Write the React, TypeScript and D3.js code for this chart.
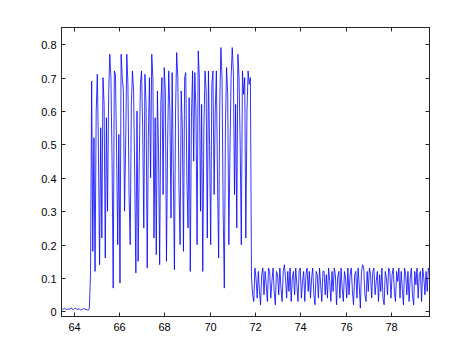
import React from "react";
import * as d3 from "d3";

const X_START = 63.5;
const X_STEP = 0.05;

const baseline = [
  0.008, 0.006, 0.01, 0.007, 0.005, 0.009, 0.006, 0.008, 0.011, 0.007,
  0.006, 0.009, 0.01, 0.006, 0.007, 0.008, 0.005, 0.004, 0.008, 0.009,
  0.007, 0.006, 0.005, 0.004, 0.01, 0.115,
];

const burst = [
  0.69, 0.18, 0.52, 0.12, 0.6, 0.71, 0.48, 0.14, 0.55, 0.22,
  0.7, 0.62, 0.16, 0.58, 0.3, 0.65, 0.77, 0.7, 0.45, 0.07,
  0.72, 0.71, 0.48, 0.2, 0.53, 0.085, 0.77, 0.7, 0.66, 0.3,
  0.5, 0.77, 0.68, 0.35, 0.2, 0.62, 0.72, 0.66, 0.4, 0.115,
  0.6, 0.15, 0.45, 0.68, 0.72, 0.55, 0.25, 0.71, 0.62, 0.13,
  0.52, 0.7, 0.4, 0.77, 0.7, 0.22, 0.58, 0.17, 0.66, 0.48,
  0.14, 0.62, 0.7, 0.35, 0.73, 0.66, 0.15, 0.5, 0.72, 0.6,
  0.28, 0.715, 0.42, 0.125, 0.6, 0.775, 0.7, 0.38, 0.2, 0.66,
  0.55, 0.18, 0.7, 0.715, 0.4, 0.25, 0.64, 0.12, 0.58, 0.72,
  0.45, 0.715, 0.6, 0.2, 0.78, 0.7, 0.3, 0.62, 0.12, 0.55,
  0.72, 0.66, 0.22, 0.72, 0.5, 0.2, 0.68, 0.72, 0.35, 0.6,
  0.72, 0.4, 0.16, 0.62, 0.79, 0.7, 0.3, 0.07, 0.55, 0.73,
  0.65, 0.2, 0.48, 0.7, 0.79, 0.72, 0.35, 0.62, 0.25, 0.77,
  0.7, 0.5, 0.2, 0.72, 0.65, 0.7, 0.22, 0.6, 0.72, 0.68,
  0.7,
];

const tail = [
  0.1,
  0.05, 0.03, 0.13, 0.1, 0.04, 0.12, 0.06, 0.02, 0.11, 0.13,
  0.05, 0.12, 0.08, 0.03, 0.13, 0.12, 0.04, 0.09, 0.13, 0.06,
  0.02, 0.12, 0.11, 0.05, 0.13, 0.07, 0.03, 0.12, 0.14, 0.1,
  0.04, 0.12, 0.06, 0.13, 0.03, 0.1, 0.12, 0.05, 0.13, 0.08,
  0.03, 0.12, 0.13, 0.04, 0.09, 0.12, 0.03, 0.11, 0.13, 0.06,
  0.12, 0.04, 0.1, 0.13, 0.05, 0.02, 0.12, 0.11, 0.04, 0.13,
  0.08, 0.03, 0.12, 0.12, 0.05, 0.11, 0.04, 0.13, 0.09, 0.03,
  0.12, 0.06, 0.13, 0.11, 0.02, 0.1, 0.12, 0.04, 0.13, 0.07,
  0.03, 0.12, 0.1, 0.04, 0.13, 0.05, 0.11, 0.13, 0.06, 0.02,
  0.11, 0.12, 0.04, 0.13, 0.08, 0.01, 0.12, 0.14, 0.13, 0.05,
  0.03, 0.12, 0.06, 0.13, 0.11, 0.04, 0.12, 0.13, 0.05, 0.09,
  0.12, 0.03, 0.11, 0.06, 0.13, 0.04, 0.02, 0.12, 0.1, 0.05,
  0.13, 0.12, 0.04, 0.11, 0.13, 0.06, 0.03, 0.12, 0.09, 0.13,
  0.04, 0.12, 0.07, 0.02, 0.13, 0.11, 0.05, 0.12, 0.03, 0.1,
  0.13, 0.05, 0.02, 0.12, 0.08, 0.13, 0.04, 0.11, 0.12, 0.03,
  0.13, 0.1, 0.05, 0.12, 0.06, 0.13, 0.12,
];

const xTicks = [64, 66, 68, 70, 72, 74, 76, 78];
const yTicks = [0, 0.1, 0.2, 0.3, 0.4, 0.5, 0.6, 0.7, 0.8];
const X_DOMAIN = [63.47, 79.7];
const Y_DOMAIN = [-0.015, 0.85];

const W = 474;
const H = 355;
const M = { left: 61.5, top: 27.5, right: 429.5, bottom: 316.5 };

export default function App() {
  const values = [...baseline, ...burst, ...tail];
  const points: [number, number][] = values.map((v, i) => [X_START + i * X_STEP, v]);
  const x = d3.scaleLinear().domain(X_DOMAIN).range([M.left, M.right]);
  const y = d3.scaleLinear().domain(Y_DOMAIN).range([M.bottom, M.top]);
  const line = d3
    .line<[number, number]>()
    .x((d) => x(d[0]))
    .y((d) => y(d[1]));
  const tl = 4;
  const font = "Liberation Sans, Arial, sans-serif";
  return (
    <svg
      width={W}
      height={H}
      style={{ position: "fixed", left: 0, top: 0, background: "#fff" }}
    >
      <defs>
        <clipPath id="plot">
          <rect x={M.left} y={M.top} width={M.right - M.left} height={M.bottom - M.top} />
        </clipPath>
      </defs>
      <rect width={W} height={H} fill="#fff" />
      <path
        d={line(points) || ""}
        fill="none"
        stroke="#0000ff"
        strokeWidth={0.8}
        clipPath="url(#plot)"
      />
      <rect
        x={M.left}
        y={M.top}
        width={M.right - M.left}
        height={M.bottom - M.top}
        fill="none"
        stroke="#262626"
        strokeWidth={1}
      />
      {xTicks.map((t) => {
        const px = Math.round(x(t)) + 0.5;
        return (
          <g key={"x" + t}>
            <line x1={px} x2={px} y1={M.bottom} y2={M.bottom - tl} stroke="#262626" />
            <line x1={px} x2={px} y1={M.top} y2={M.top + tl} stroke="#262626" />
            <text
              x={px}
              y={M.bottom + 14}
              textAnchor="middle"
              fontFamily={font}
              fontSize={11}
              fill="#000"
            >
              {t}
            </text>
          </g>
        );
      })}
      {yTicks.map((t) => {
        const py = Math.round(y(t)) + 0.5;
        return (
          <g key={"y" + t}>
            <line x1={M.left} x2={M.left + tl} y1={py} y2={py} stroke="#262626" />
            <line x1={M.right} x2={M.right - tl} y1={py} y2={py} stroke="#262626" />
            <text
              x={M.left - 5}
              y={py + 4}
              textAnchor="end"
              fontFamily={font}
              fontSize={11}
              fill="#000"
            >
              {t === 0 ? "0" : t.toFixed(1)}
            </text>
          </g>
        );
      })}
    </svg>
  );
}
